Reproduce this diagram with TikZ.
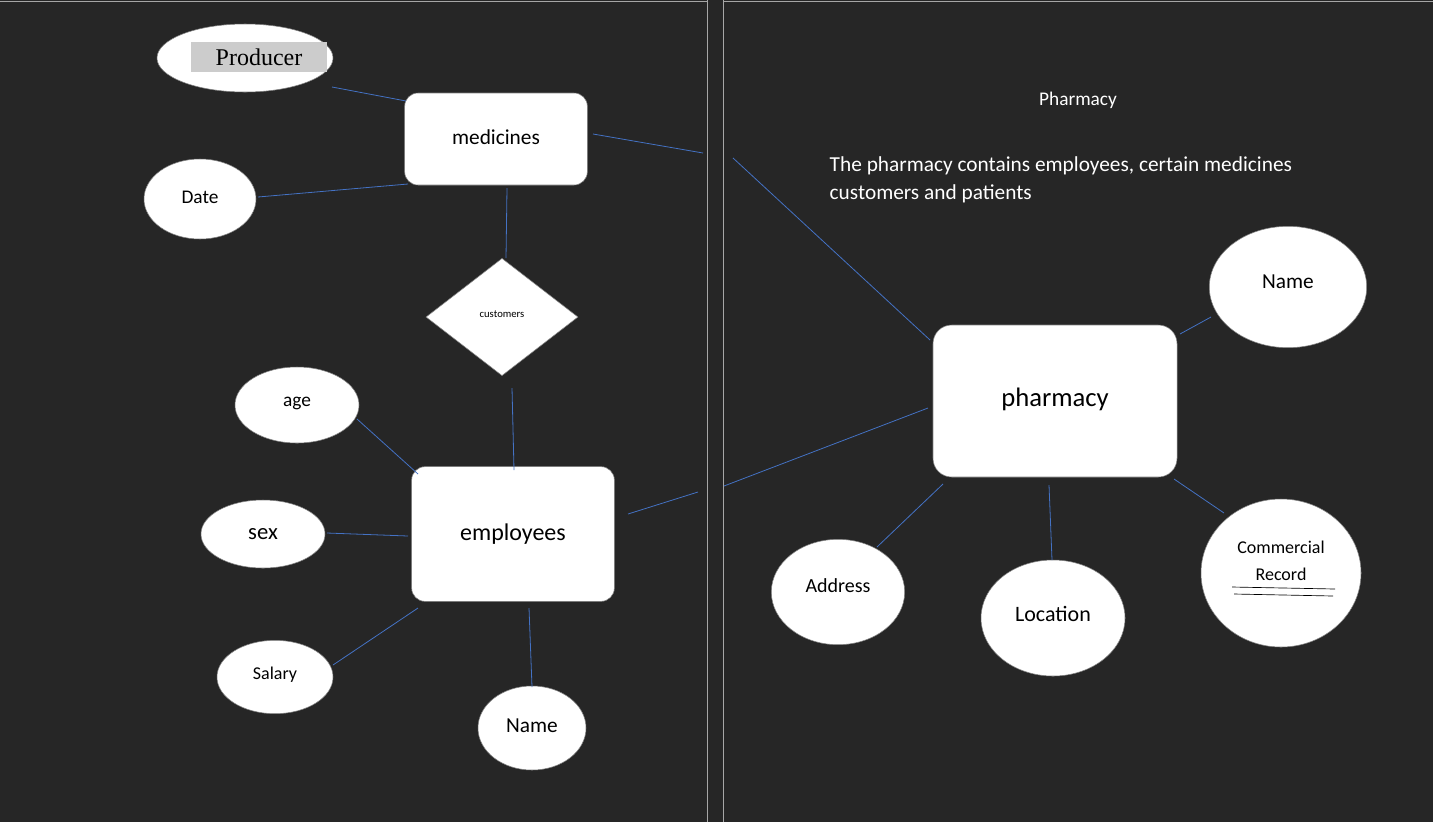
\documentclass[tikz,border=0pt]{standalone}
\usepackage{fontspec}
\setmainfont{Carlito}
\usetikzlibrary{shapes.geometric}
\definecolor{bg}{HTML}{262626}
\definecolor{ln}{HTML}{4472C4}
\begin{document}
\begin{tikzpicture}[x=0.75pt,y=-0.75pt,
 ell/.style={ellipse,draw=gray,fill=white,inner sep=0pt},
 box/.style={rectangle,rounded corners=10pt,draw=gray,fill=white,inner sep=0pt},
 con/.style={draw=ln,line width=0.6pt}]
\fill[bg] (0,0) rectangle (1433,822);
\useasboundingbox (0,0) rectangle (1433,822);
\draw[gray!70] (707,0) -- (707,822) (723,0) -- (723,822) (0,1)--(707,1) (723,1)--(1433,1);
% left
\node[ell,minimum width=132pt,minimum height=51pt] (prod) at (245,58) {};
\node[fill=gray!40,font=\fontspec{Liberation Serif}\fontsize{18}{20}\selectfont,minimum width=102pt,minimum height=22pt,inner sep=0pt] at (259,57) {Producer};
\node[box,minimum width=137pt,minimum height=69pt,font=\fontsize{16}{18}\selectfont] (med) at (496,139) {\raisebox{3pt}{medicines}};
\node[ell,minimum width=84pt,minimum height=60pt,font=\fontsize{14.5}{16}\selectfont] (date) at (200,199) {\raisebox{3pt}{Date}};
\node[diamond,draw=gray,fill=white,minimum width=114pt,minimum height=88pt,inner sep=0pt,aspect=1.3,font=\fontsize{8}{9}\selectfont] (cust) at (502,317) {\raisebox{4pt}{customers}};
\node[box,minimum width=152pt,minimum height=101pt,font=\fontsize{18}{20}\selectfont] (emp) at (513,534) {\raisebox{3pt}{employees}};
\node[ell,minimum width=93pt,minimum height=57pt,font=\fontsize{14.5}{16}\selectfont] (age) at (297,405) {\raisebox{5pt}{age}};
\node[ell,minimum width=93pt,minimum height=51pt,font=\fontsize{17}{19}\selectfont] (sex) at (263,534) {sex};
\node[ell,minimum width=87pt,minimum height=55pt,font=\fontsize{13.5}{16}\selectfont] (sal) at (275,677) {\raisebox{5pt}{Salary}};
\node[ell,minimum width=81pt,minimum height=63pt,font=\fontsize{16}{18}\selectfont] (nm1) at (532,728) {\raisebox{4pt}{Name}};
% right
\node[font=\fontsize{14.5}{17}\selectfont,text=white] (t1) at (1078,100) {Pharmacy};
\node[font=\fontsize{16}{21}\selectfont,text=white,align=left,anchor=north west] (t2) at (825,152) {The pharmacy contains employees, certain medicines\\customers and patients};
\node[box,minimum width=183pt,minimum height=114pt,rounded corners=14pt,font=\fontsize{20}{23}\selectfont] (ph) at (1055,401) {\raisebox{6pt}{pharmacy}};
\node[ell,minimum width=118pt,minimum height=91pt,font=\fontsize{16}{18}\selectfont] (nm2) at (1288,287) {\raisebox{8pt}{Name}};
\node[ell,minimum width=100pt,minimum height=79pt,font=\fontsize{15}{17}\selectfont] (addr) at (838,592) {\raisebox{9pt}{Address}};
\node[ell,minimum width=108pt,minimum height=87pt,font=\fontsize{16.5}{18}\selectfont] (loc) at (1053,618) {\raisebox{6pt}{Location}};
\node[ell,minimum width=120pt,minimum height=111pt,font=\fontsize{13.5}{19}\selectfont,align=center] (cr) at (1281,573) {\raisebox{18pt}{Commercial}\\[-8pt]\raisebox{18pt}{Record}};
\draw[black,line width=0.5pt] (1232,587) -- (1335,589) (1234,594) -- (1333,596);
% connectors
\draw[con] (332,87) -- (406,101);
\draw[con] (593,134) -- (703,153);
\draw[con] (733,158) -- (930,340);
\draw[con] (258,197) -- (408,184);
\draw[con] (507,188) -- (506,258);
\draw[con] (512,388) -- (514,470);
\draw[con] (357,419) -- (418,474);
\draw[con] (327,533) -- (408,536);
\draw[con] (333,665) -- (418,608);
\draw[con] (529,608) -- (532,687);
\draw[con] (628,514) -- (698,492);
\draw[con] (724,486) -- (928,408);
\draw[con] (1180,334) -- (1211,317);
\draw[con] (877,547) -- (943,484);
\draw[con] (1049,485) -- (1052,560);
\draw[con] (1174,479) -- (1224,513);
\end{tikzpicture}
\end{document}
